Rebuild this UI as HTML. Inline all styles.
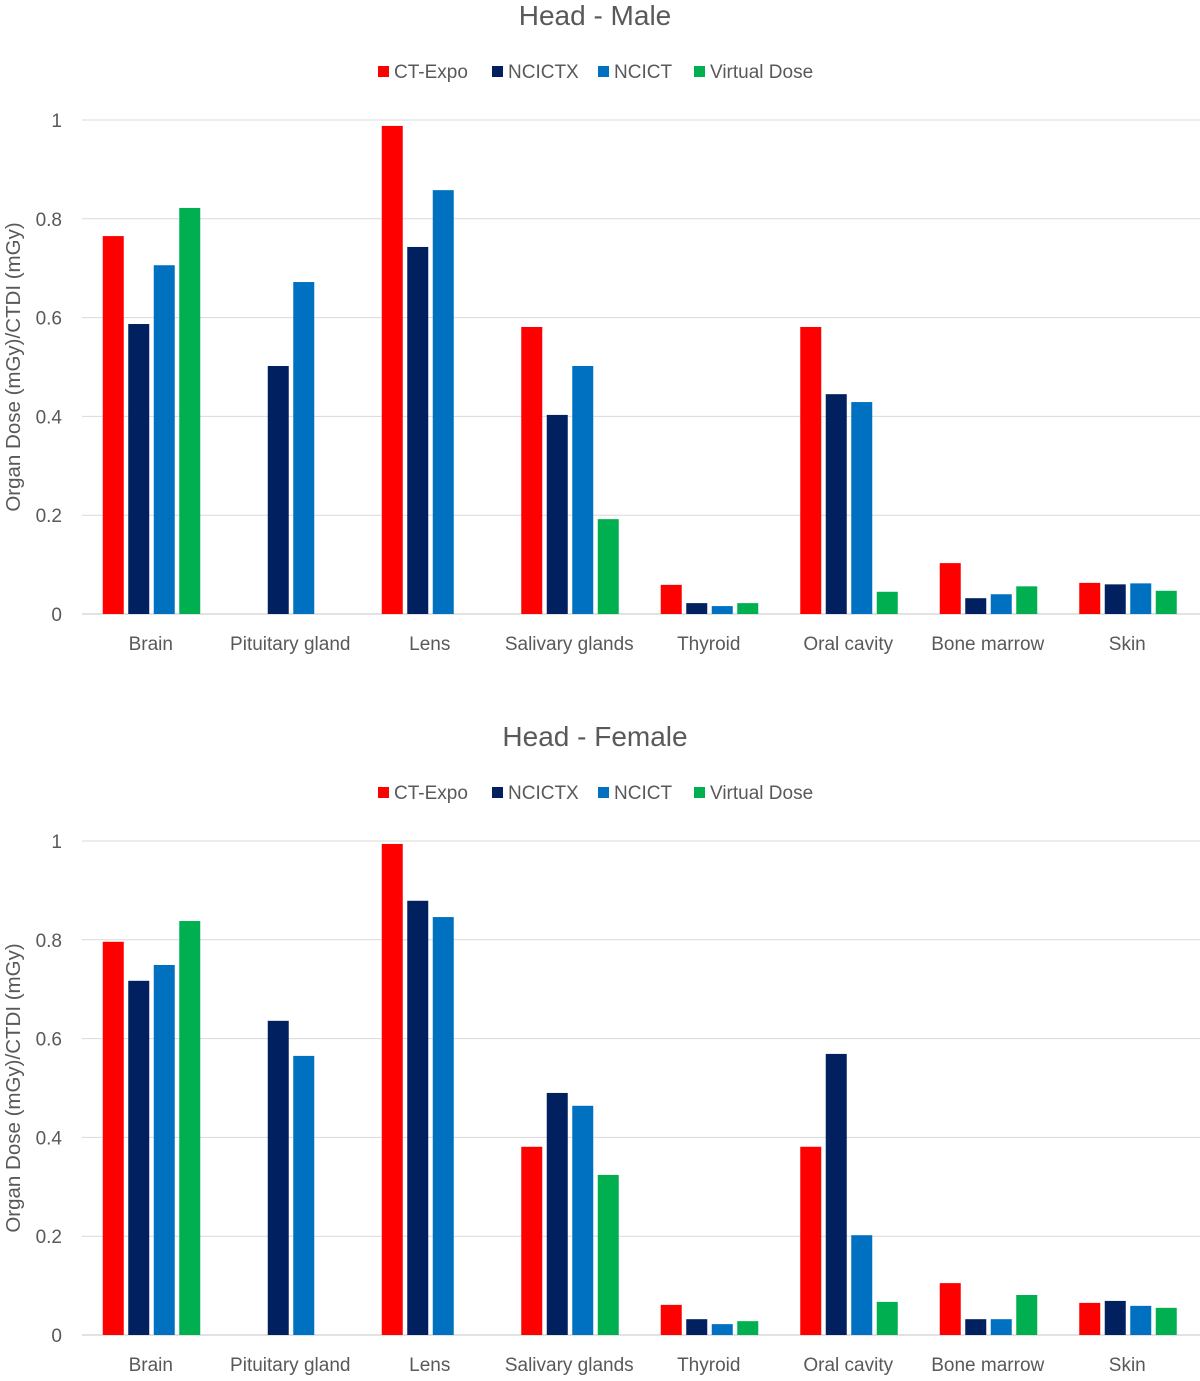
<!DOCTYPE html>
<html><head><meta charset="utf-8"><style>
body{margin:0;background:#fff;font-family:"Liberation Sans",sans-serif;}
svg text{font-family:"Liberation Sans",sans-serif;fill:#595959;}
</style></head><body>
<svg id="chart" width="1200" height="1376" xmlns="http://www.w3.org/2000/svg"></svg>
<script>
const categories=["Brain","Pituitary gland","Lens","Salivary glands","Thyroid","Oral cavity","Bone marrow","Skin"];
const seriesNames=["CT-Expo","NCICTX","NCICT","Virtual Dose"];
const seriesColors=["#ff0000","#002060","#0070c0","#00b050"];
const yTicks=[0,0.2,0.4,0.6,0.8,1];
const yTickLabels=["0","0.2","0.4","0.6","0.8","1"];
const maleCTExpo=[0.765,0,0.988,0.581,0.059,0.581,0.103,0.063];
const maleNCICTX=[0.587,0.502,0.743,0.403,0.022,0.445,0.032,0.060];
const maleNCICT=[0.706,0.672,0.858,0.502,0.016,0.429,0.040,0.062];
const maleVirtual=[0.822,0,0,0.192,0.022,0.045,0.056,0.047];
const femaleCTExpo=[0.796,0,0.994,0.381,0.061,0.381,0.105,0.065];
const femaleNCICTX=[0.717,0.636,0.879,0.490,0.032,0.569,0.032,0.069];
const femaleNCICT=[0.749,0.565,0.846,0.464,0.022,0.202,0.032,0.059];
const femaleVirtual=[0.838,0,0,0.324,0.028,0.067,0.081,0.055];

const svg=document.getElementById('chart');
const NS="http://www.w3.org/2000/svg";
function mk(tag,attrs,parent){const e=document.createElementNS(NS,tag);for(const k in attrs)e.setAttribute(k,attrs[k]);(parent||svg).appendChild(e);return e;}

function drawChart(prefix,title,top,series){
  const g=mk('g',{});
  
  
  const y0=top+614, y1=top+120, x0=82, x1=1198;
  const yS=v=>y0-(y0-y1)*v;
  const catW=(x1-x0)/categories.length;
  const t=mk('text',{x:595,y:top+25,'font-size':28,'text-anchor':'middle'},g);
  t.textContent=title;
  
  
  const legX=[378,492,598,694];
  seriesNames.forEach((n,i)=>{
    const lg=mk('g',{},g);
    
    
    mk('rect',{x:legX[i],y:top+66,width:11,height:11,fill:seriesColors[i]},lg);
    const lt=mk('text',{x:legX[i]+16,y:top+78,'font-size':19},lg);
    lt.textContent=n;
  });
  yTicks.forEach((v,i)=>{
    if(v>0){const gl=mk('line',{x1:x0,x2:1200,y1:yS(v),y2:yS(v),stroke:'#d9d9d9','stroke-width':1},g);
    
    }
    const tl=mk('text',{x:62,y:yS(v)+7,'font-size':19,'text-anchor':'end'},g);
    tl.textContent=yTickLabels[i];
    
    
  });
  const ax=mk('line',{x1:x0,x2:1200,y1:y0,y2:y0,stroke:'#d9d9d9','stroke-width':1.5},g);
  
  
  const yt=mk('text',{x:0,y:0,'font-size':20.5,'text-anchor':'middle',transform:`translate(20,${top+367}) rotate(-90)`},g);
  yt.textContent="Organ Dose (mGy)/CTDI (mGy)";
  
  
  categories.forEach((c,ci)=>{
    const cx=x0+catW*(ci+0.5);
    series.forEach((arr,si)=>{
      const v=arr[ci]; if(v<=0)return;
      const bx=cx-49+si*25.5;
      const r=mk('rect',{x:bx,y:yS(v),width:21,height:y0-yS(v),fill:seriesColors[si]},g);
      
      
    });
    const cl=mk('text',{x:cx-1,y:y0+36,'font-size':19,'text-anchor':'middle'},g);
    cl.textContent=c;
    
    
  });
}
drawChart('male','Head - Male',0,[maleCTExpo,maleNCICTX,maleNCICT,maleVirtual]);
drawChart('female','Head - Female',721,[femaleCTExpo,femaleNCICTX,femaleNCICT,femaleVirtual]);
</script>
</body></html>
